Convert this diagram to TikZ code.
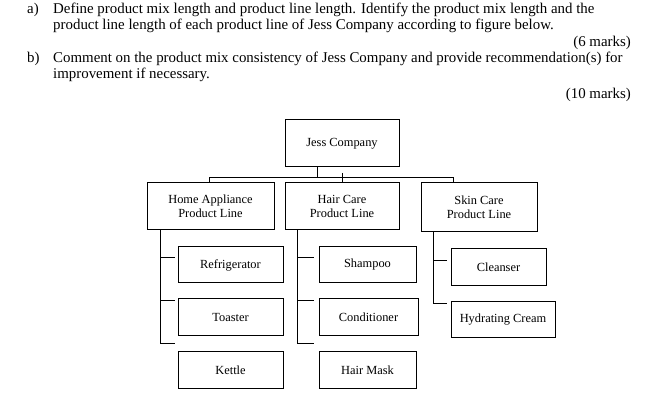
\documentclass[tikz,border=0pt]{standalone}
\usepackage{fontspec}
\setmainfont{Liberation Serif}
\begin{document}
\begin{tikzpicture}[x=1pt,y=-1pt,
  txt/.style={anchor=base west,inner sep=0pt,font=\fontsize{14.9}{17}\selectfont},
  bx/.style={draw,line width=1pt,inner sep=0pt,align=center,font=\fontsize{12.4}{14}\selectfont},
  ln/.style={line width=1pt}]
\useasboundingbox (0,0) rectangle (662,411);
\node[txt] (la) at (27,14) {a)};
\node[txt] (ta1) at (53,14) {Define product mix length and product line length. Identify the product mix length and the};
\node[txt] (ta2) at (53,30) {product line length of each product line of Jess Company according to figure below.};
\node[txt,anchor=base east] (m1) at (631,47) {(6 marks)};
\node[txt] (lb) at (27,63) {b)};
\node[txt] (tb1) at (53,63) {Comment on the product mix consistency of Jess Company and provide recommendation(s) for};
\node[txt] (tb2) at (53,79) {improvement if necessary.};
\node[txt,anchor=base east] (m2) at (631,99) {(10 marks)};
% boxes via corners
\newcommand{\bxx}[6]{\node[bx,minimum width=#4-#2,minimum height=#5-#3] (#1) at ({(#2+#4)/2},{(#3+#5)/2}) {#6};}
\bxx{jc}{285}{120}{399}{167}{Jess Company}
\bxx{ha}{147}{183}{274}{230}{Home Appliance\\Product Line}
\bxx{hc}{285}{183}{399}{230}{Hair Care\\Product Line}
\bxx{sc}{421}{183}{537}{232}{Skin Care\\Product Line}
\bxx{re}{178}{247}{283}{283}{Refrigerator}
\bxx{to}{178}{299}{283}{336}{Toaster}
\bxx{ke}{178}{352}{283}{389}{Kettle}
\bxx{sh}{319}{247}{416}{283}{Shampoo}
\bxx{co}{319}{299}{418}{336}{Conditioner}
\bxx{hm}{319}{352}{416}{389}{Hair Mask}
\bxx{cl}{451}{249}{546}{286}{Cleanser}
\bxx{hy}{451}{302}{555}{338}{Hydrating Cream}
% connectors
\coordinate (j1) at (317,178);
\draw[ln] (317,167) -- (j1);
\draw[ln] (209,183) -- (209,178) -- (453,178) -- (453,183);
\draw[ln] (342,173) -- (342,183);
\draw[ln] (160,230) -- (160,344) -- (175,344);
\draw[ln] (160,258) -- (175,258);
\draw[ln] (160,301) -- (175,301);
\draw[ln] (297,230) -- (297,344) -- (314,344);
\draw[ln] (297,258) -- (314,258);
\draw[ln] (297,301) -- (314,301);
\draw[ln] (433,232) -- (433,304) -- (447,304);
\draw[ln] (433,261) -- (447,261);
\end{tikzpicture}
\end{document}
